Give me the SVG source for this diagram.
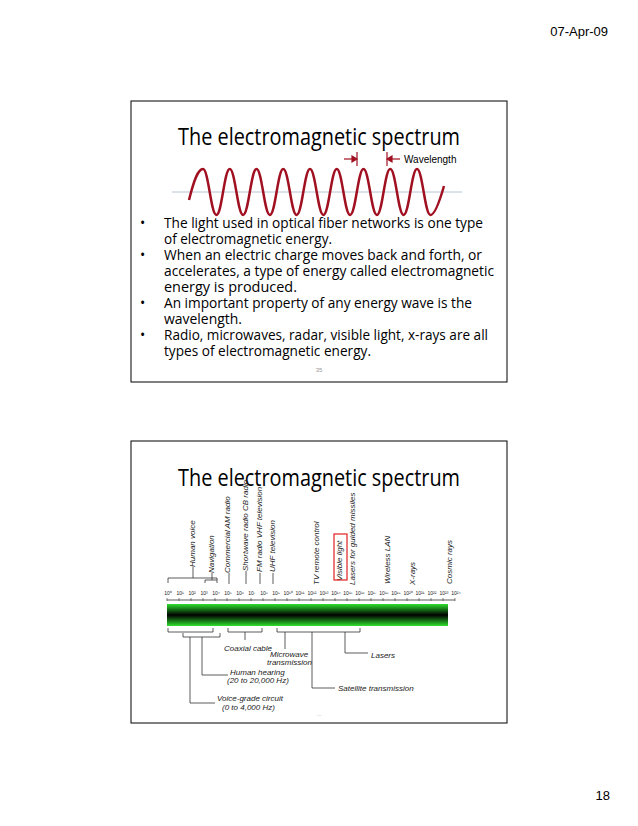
<svg xmlns="http://www.w3.org/2000/svg" width="638" height="826" viewBox="0 0 638 826">
<style>
.t{font-family:"Open Sans","Liberation Sans",Arial,sans-serif;fill:#000}
.b{font-size:14px}
.v{font-family:"Liberation Sans",Arial,sans-serif;font-size:8px;font-style:italic;fill:#222}
.s{font-family:"Liberation Sans",Arial,sans-serif;font-size:5px;fill:#222}
.ln{stroke:#333;stroke-width:0.8;fill:none}
</style>
<defs>
<linearGradient id="g" x1="0" y1="0" x2="0" y2="1">
<stop offset="0" stop-color="#2ee02e"/><stop offset="0.5" stop-color="#000"/><stop offset="1" stop-color="#2ee02e"/>
</linearGradient>
</defs>
<rect width="638" height="826" fill="#fff"/>
<text x="608" y="36" font-size="13" text-anchor="end" font-family="Liberation Sans,Arial,sans-serif">07-Apr-09</text>
<text x="610" y="800" font-size="13" text-anchor="end" font-family="Liberation Sans,Arial,sans-serif">18</text>

<g id="slide1">
<rect x="131" y="101" width="376" height="281" fill="#fff" stroke="#000" stroke-width="1"/>
<text class="t" x="178" y="145" font-size="23" textLength="282" lengthAdjust="spacingAndGlyphs">The electromagnetic spectrum</text>
<line x1="172" y1="192" x2="462" y2="192" stroke="#b8c4d4" stroke-width="1"/>
<path id="wave" fill="none" stroke="#a01020" stroke-width="2.5" d="M189,200 C194,180 198,169 203,169 C208.5,169 210.9,215 216.4,215 C221.9,215 224.2,169 229.75,169 C235.25,169 237.6,215 243.1,215 C248.6,215 251,169 256.5,169 C262,169 264.4,215 269.9,215 C275.4,215 277.75,169 283.25,169 C288.75,169 291.1,215 296.6,215 C302.1,215 304.5,169 310,169 C315.5,169 317.9,215 323.4,215 C328.9,215 331.25,169 336.75,169 C342.25,169 344.6,215 350.1,215 C355.6,215 358,169 363.5,169 C369,169 371.4,215 376.9,215 C382.4,215 384.75,169 390.25,169 C395.75,169 398.1,215 403.6,215 C409.1,215 411.5,169 417,169 C422.5,169 424.9,215 430.4,215 C435,215 440,200 444,186"/>
<g stroke="#a01020" stroke-width="1.2" fill="#a01020">
<line x1="344" y1="159" x2="354" y2="159"/><path d="M357,159 L352,156 L352,162 Z"/>
<line x1="357" y1="152" x2="357" y2="166"/>
<line x1="387" y1="152" x2="387" y2="166"/>
<line x1="390" y1="159" x2="400" y2="159"/><path d="M387,159 L392,156 L392,162 Z"/>
</g>
<text x="404" y="163" font-size="10" font-family="Liberation Sans,Arial,sans-serif">Wavelength</text>
<g class="t b">
<text x="140" y="228">•</text><text x="164" y="228" textLength="319" lengthAdjust="spacingAndGlyphs">The light used in optical fiber networks is one type</text>
<text x="164" y="244" textLength="168" lengthAdjust="spacingAndGlyphs">of electromagnetic energy.</text>
<text x="140" y="260">•</text><text x="164" y="260" textLength="318" lengthAdjust="spacingAndGlyphs">When an electric charge moves back and forth, or</text>
<text x="164" y="276" textLength="330" lengthAdjust="spacingAndGlyphs">accelerates, a type of energy called electromagnetic</text>
<text x="164" y="292" textLength="133" lengthAdjust="spacingAndGlyphs">energy is produced.</text>
<text x="140" y="308">•</text><text x="164" y="308" textLength="308" lengthAdjust="spacingAndGlyphs">An important property of any energy wave is the</text>
<text x="164" y="324" textLength="78" lengthAdjust="spacingAndGlyphs">wavelength.</text>
<text x="140" y="340">•</text><text x="164" y="340" textLength="324" lengthAdjust="spacingAndGlyphs">Radio, microwaves, radar, visible light, x-rays are all</text>
<text x="164" y="356" textLength="207" lengthAdjust="spacingAndGlyphs">types of electromagnetic energy.</text>
</g>
<text x="319" y="372" font-family="Liberation Sans,sans-serif" font-size="6" fill="#999" text-anchor="middle">35</text>
</g>

<g id="slide2">
<rect x="131" y="441" width="376" height="282" fill="#fff" stroke="#000" stroke-width="1"/>
<text class="t" x="178" y="486" font-size="23" textLength="282" lengthAdjust="spacingAndGlyphs">The electromagnetic spectrum</text>
<g id="labels">
<text class="v" transform="translate(195,567) rotate(-90)">Human voice</text>
<text class="v" transform="translate(214,573) rotate(-90)">Navigation</text>
<text class="v" transform="translate(230,573) rotate(-90)">Commercial AM radio</text>
<text class="v" transform="translate(248,571) rotate(-90)">Shortwave radio CB radio</text>
<text class="v" transform="translate(262,572) rotate(-90)">FM radio VHF television</text>
<text class="v" transform="translate(275,572) rotate(-90)">UHF television</text>
<text class="v" transform="translate(319,585) rotate(-90)">TV remote control</text>
<text class="v" transform="translate(342,581) rotate(-90)">Visible light</text>
<text class="v" transform="translate(355,585) rotate(-90)">Lasers for guided missiles</text>
<text class="v" transform="translate(390,584) rotate(-90)">Wireless LAN</text>
<text class="v" transform="translate(415,585) rotate(-90)">X-rays</text>
<text class="v" transform="translate(452,584) rotate(-90)">Cosmic rays</text>
<rect x="334" y="534" width="13" height="46" fill="none" stroke="#e02020" stroke-width="1.2"/>
</g>
<g id="connectors" class="ln">
<path d="M168,583 V578 H217 V583 M193,578 V567"/>
<path d="M205,583 V580 H217 M212,580 V573"/>
<line x1="229" y1="573" x2="229" y2="584"/>
<line x1="246" y1="571" x2="246" y2="584"/>
<line x1="260" y1="573" x2="260" y2="584"/>
<line x1="273" y1="573" x2="273" y2="584"/>
<path d="M168,628 V632 H213 V628"/>
<path d="M183,633 V637 H220 V633"/>
<path d="M228,628 V632 H262 V628 M245,632 V640"/>
<path d="M277,628 V632 H360 V628"/>
<path d="M285,632 V649"/>
<path d="M312,632 V688 H335"/>
<path d="M345,632 V653 H368"/>
<path d="M202,637 V675 H228"/>
<path d="M190,637 V703 H215"/>
</g>
<g id="scale">
<line x1="167" y1="600" x2="455" y2="600" stroke="#333" stroke-width="0.8"/>
<path stroke="#333" stroke-width="0.6" d="M167,598V601 M179,598V601 M191,598V601 M203,598V601 M215,598V601 M227,598V601 M239,598V601 M251,598V601 M263,598V601 M275,598V601 M287,598V601 M299,598V601 M311,598V601 M323,598V601 M335,598V601 M347,598V601 M359,598V601 M371,598V601 M383,598V601 M395,598V601 M407,598V601 M419,598V601 M431,598V601 M443,598V601 M455,598V601"/>
<g class="s" text-anchor="middle">
<text x="168" y="595">10⁰</text><text x="180" y="595">10¹</text><text x="192" y="595">10²</text><text x="204" y="595">10³</text><text x="216" y="595">10⁴</text><text x="228" y="595">10⁵</text><text x="240" y="595">10⁶</text><text x="252" y="595">10⁷</text><text x="264" y="595">10⁸</text><text x="276" y="595">10⁹</text><text x="288" y="595">10¹⁰</text><text x="300" y="595">10¹¹</text><text x="312" y="595">10¹²</text><text x="324" y="595">10¹³</text><text x="336" y="595">10¹⁴</text><text x="348" y="595">10¹⁵</text><text x="360" y="595">10¹⁶</text><text x="372" y="595">10¹⁷</text><text x="384" y="595">10¹⁸</text><text x="396" y="595">10¹⁹</text><text x="408" y="595">10²⁰</text><text x="420" y="595">10²¹</text><text x="432" y="595">10²²</text><text x="444" y="595">10²³</text><text x="456" y="595">10²⁴</text>
</g>
<rect x="167" y="604" width="281" height="22" fill="url(#g)"/>
</g>
<g class="v">
<text x="224" y="651">Coaxial cable</text>
<text x="270" y="657">Microwave</text><text x="267" y="665">transmission</text>
<text x="338" y="691">Satellite transmission</text>
<text x="371" y="658">Lasers</text>
<text x="230" y="675">Human hearing</text><text x="227" y="683">(20 to 20,000 Hz)</text>
<text x="217" y="701">Voice-grade circuit</text><text x="222" y="710">(0 to 4,000 Hz)</text>
</g>
<text x="319" y="716" font-family="Liberation Sans,sans-serif" font-size="5" fill="#999" text-anchor="middle">...</text>
</g>
</svg>
